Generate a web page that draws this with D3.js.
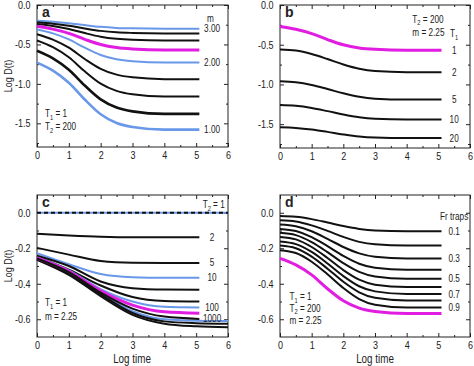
<!DOCTYPE html>
<html>
<head>
<meta charset="utf-8">
<script src="https://cdn.jsdelivr.net/npm/d3@7"></script>
<style>
body { margin: 0; background: #fff; }
svg text { font-family: "Liberation Sans", Arial, sans-serif; fill: #222; }
</style>
</head>
<body>
<svg id="chart" width="474" height="366"></svg>
<script>
// ---- data ----
var logTime = [0, 0.5, 1, 1.5, 2, 2.5, 3, 4, 5.1];

// panel a: T1 = 1, T2 = 200, varying m
var mValues = [3.00, 2.75, 2.50, 2.25, 2.00, 1.75, 1.50, 1.25, 1.00];
var logDbyM = [
	[-0.20, -0.212, -0.23, -0.255, -0.277, -0.29, -0.296, -0.30, -0.30],
	[-0.22, -0.237, -0.262, -0.297, -0.328, -0.346, -0.354, -0.36, -0.36],
	[-0.24, -0.265, -0.303, -0.356, -0.402, -0.429, -0.442, -0.45, -0.45],
	[-0.27, -0.306, -0.36, -0.435, -0.501, -0.54, -0.558, -0.57, -0.57],
	[-0.31, -0.36, -0.436, -0.541, -0.633, -0.688, -0.713, -0.73, -0.73],
	[-0.37, -0.438, -0.541, -0.684, -0.809, -0.883, -0.917, -0.94, -0.94],
	[-0.45, -0.535, -0.663, -0.841, -0.997, -1.089, -1.132, -1.16, -1.16],
	[-0.58, -0.676, -0.82, -1.02, -1.196, -1.30, -1.348, -1.38, -1.38],
	[-0.73, -0.832, -0.985, -1.198, -1.385, -1.495, -1.546, -1.58, -1.58]
];

// panel b: T2 = 200, m = 2.25, varying T1
var t1Values = [1, 2, 5, 10, 20];
var logDbyT1 = [
	[-0.27, -0.306, -0.36, -0.435, -0.501, -0.54, -0.558, -0.57, -0.57],
	[-0.56, -0.574, -0.617, -0.68, -0.748, -0.802, -0.831, -0.845, -0.845],
	[-0.96, -0.972, -1.006, -1.057, -1.112, -1.156, -1.179, -1.19, -1.19],
	[-1.26, -1.269, -1.296, -1.336, -1.379, -1.413, -1.431, -1.44, -1.44],
	[-1.54, -1.547, -1.567, -1.597, -1.629, -1.655, -1.668, -1.675, -1.675]
];

// panel c: T1 = 1, m = 2.25, varying T2
var logTimeC = [0, 1, 2, 3, 4, 5.1];
var logTimeCLong = [0, 1, 2, 3, 4, 5, 6];
var t2Values = [2, 5, 10, 20, 50, 100, 200, 1000];
var logDbyT2 = [
	[-0.119, -0.128, -0.135, -0.138, -0.138, -0.138],
	[-0.198, -0.236, -0.272, -0.282, -0.283, -0.283],
	[-0.228, -0.29, -0.345, -0.363, -0.366, -0.366],
	[-0.242, -0.30, -0.387, -0.425, -0.433, -0.434],
	[-0.25, -0.32, -0.41, -0.475, -0.497, -0.50],
	[-0.252, -0.325, -0.43, -0.50, -0.53, -0.534],
	[-0.255, -0.33, -0.44, -0.52, -0.558, -0.566],
	[-0.258, -0.335, -0.45, -0.54, -0.585, -0.598]
];
var logDT2one = [0, 0, 0, 0, 0, 0, 0];
var logDtailC = [
	[-0.26, -0.34, -0.455, -0.555, -0.60, -0.608, -0.61],
	[-0.262, -0.345, -0.46, -0.565, -0.612, -0.622, -0.625],
	[-0.265, -0.35, -0.47, -0.575, -0.625, -0.64, -0.645]
];

// panel d: T1 = 1, T2 = 200, m = 2.25, varying fraction of traps
var frTraps = [0.1, 0.2, 0.3, 0.4, 0.5, 0.6, 0.7, 0.8, 0.9, 1.0];
var logDbyFr = [
	[-0.019, -0.023, -0.036, -0.055, -0.075, -0.091, -0.10, -0.104, -0.104],
	[-0.042, -0.049, -0.071, -0.102, -0.136, -0.164, -0.178, -0.185, -0.185],
	[-0.066, -0.076, -0.104, -0.147, -0.193, -0.229, -0.248, -0.258, -0.258],
	[-0.091, -0.103, -0.137, -0.188, -0.243, -0.287, -0.31, -0.321, -0.321],
	[-0.113, -0.126, -0.165, -0.222, -0.284, -0.333, -0.359, -0.372, -0.372],
	[-0.136, -0.15, -0.193, -0.255, -0.323, -0.377, -0.405, -0.419, -0.419],
	[-0.162, -0.177, -0.221, -0.286, -0.357, -0.414, -0.443, -0.458, -0.458],
	[-0.185, -0.20, -0.247, -0.315, -0.389, -0.448, -0.479, -0.494, -0.494],
	[-0.211, -0.227, -0.276, -0.347, -0.424, -0.486, -0.518, -0.534, -0.534],
	[-0.257, -0.294, -0.35, -0.428, -0.496, -0.537, -0.556, -0.568, -0.568]
];

// ---- drawing ----
var svg = d3.select("#chart");
var BLUE = "#6a98e8", MAG = "#e21de2", BLACK = "#111";
var NARROW = 0.82; // the figure uses a narrow sans face

function fmtY(d) { return d.toFixed(1); }

function panel(box, yDomain, yMajor, yMinor) {
	var x = d3.scaleLinear().domain([0, 6]).range([box.left, box.right]);
	var y = d3.scaleLinear().domain(yDomain).range([box.bottom, box.top]);
	var g = svg.append("g");
	var xMajor = d3.range(0, 7, 1), xMinor = d3.range(0.5, 6, 1);

	function put(axis, tx, ty, labels) {
		var a = g.append("g").attr("transform", "translate(" + tx + "," + ty + ")").call(axis);
		a.select(".domain").remove();
		a.selectAll("line").attr("stroke", "#222");
		a.selectAll("text").attr("font-size", 11).attr("fill", "#222")
			.attr("transform", "scale(" + NARROW + ",1)");
		if (!labels) a.selectAll("text").remove();
	}
	// major + minor ticks on all four sides, pointing inward
	put(d3.axisBottom(x).tickValues(xMajor).tickSize(-4).tickPadding(4).tickFormat(d3.format("d")), 0, box.bottom, true);
	put(d3.axisBottom(x).tickValues(xMinor).tickSize(-2), 0, box.bottom, false);
	put(d3.axisTop(x).tickValues(xMajor).tickSize(-4), 0, box.top, false);
	put(d3.axisTop(x).tickValues(xMinor).tickSize(-2), 0, box.top, false);
	put(d3.axisLeft(y).tickValues(yMajor).tickSize(-4).tickPadding(8).tickFormat(fmtY), box.left, 0, true);
	put(d3.axisLeft(y).tickValues(yMinor).tickSize(-2), box.left, 0, false);
	put(d3.axisRight(y).tickValues(yMajor).tickSize(-4), box.right, 0, false);
	put(d3.axisRight(y).tickValues(yMinor).tickSize(-2), box.right, 0, false);

	g.append("rect")
		.attr("x", box.left).attr("y", box.top)
		.attr("width", box.right - box.left).attr("height", box.bottom - box.top)
		.attr("fill", "none").attr("stroke", "#222").attr("stroke-width", 1);

	g.append("text").attr("x", box.left + 5).attr("y", box.top + 12)
		.attr("font-size", 14).attr("font-weight", "bold")
		.text(box.letter);

	return { g: g, x: x, y: y };
}

function curve(p, xs, vals, color, width, dash) {
	var line = d3.line()
		.x(function(d) { return p.x(d[0]); })
		.y(function(d) { return p.y(d[1]); })
		.curve(d3.curveMonotoneX);
	p.g.append("path")
		.datum(d3.zip(xs, vals))
		.attr("d", line)
		.attr("fill", "none")
		.attr("stroke", color)
		.attr("stroke-width", width)
		.attr("stroke-dasharray", dash || null);
}

// narrow text at a pixel position; "_" marks a one-character subscript, e.g. "T_2 = 200"
function label(px, py, str, size, anchor, rotate) {
	var t = svg.append("text")
		.attr("transform", "translate(" + px + "," + py + ")" + (rotate ? " rotate(" + rotate + ")" : "") + " scale(" + NARROW + ",1)")
		.attr("font-size", size)
		.attr("dy", "0.35em")
		.attr("text-anchor", anchor || "start");
	var parts = str.split("_");
	t.append("tspan").text(parts[0]);
	for (var i = 1; i < parts.length; i++) {
		t.append("tspan").attr("font-size", size * 0.7).attr("dy", 2.5).text(parts[i].charAt(0));
		t.append("tspan").attr("dy", -2.5).text(parts[i].slice(1));
	}
	return t;
}

function note(p, xv, yv, str, anchor) {
	return label(p.x(xv), p.y(yv), str, 10, anchor);
}

// panel a
var pa = panel({ left: 37, right: 228, top: 5, bottom: 147, letter: "a" },
	[-1.8, 0], [0, -0.5, -1, -1.5], [-0.25, -0.75, -1.25, -1.75]);
logDbyM.forEach(function(vals, i) {
	var m = mValues[i];
	var color = m === 2.25 ? MAG : (m % 1 === 0 ? BLUE : BLACK);
	var w = m === 2.25 ? 3 : (m <= 1.25 ? 2.6 : 2);
	curve(pa, logTime, vals, color, w);
	if (m % 1 === 0) note(pa, 5.5, vals[vals.length - 1], m.toFixed(2), "middle");
});
note(pa, 5.45, -0.175, "m", "middle");
note(pa, 0.25, -1.38, "T_1 = 1");
note(pa, 0.25, -1.545, "T_2 = 200");

// panel b
var pb = panel({ left: 280, right: 470, top: 5, bottom: 148, letter: "b" },
	[-1.8, 0], [0, -0.5, -1, -1.5], [-0.25, -0.75, -1.25, -1.75]);
logDbyT1.forEach(function(vals, i) {
	var first = t1Values[i] === 1;
	curve(pb, logTime, vals, first ? MAG : BLACK, first ? 3 : 2);
	note(pb, 5.5, vals[vals.length - 1], String(t1Values[i]), "middle");
});
note(pb, 4.18, -0.18, "T_2 = 200");
note(pb, 4.18, -0.34, "m = 2.25");
note(pb, 5.5, -0.36, "T_1", "middle");

// panel c
var pc = panel({ left: 37, right: 228, top: 195, bottom: 337, letter: "c" },
	[-0.7, 0.1], [0, -0.2, -0.4, -0.6], [-0.1, -0.3, -0.5]);
curve(pc, logTimeCLong, logDT2one, BLUE, 2);
curve(pc, logTimeCLong, logDT2one, BLACK, 2, "4,3");
logDtailC.forEach(function(vals, i) {
	curve(pc, logTimeCLong, vals, i === 0 ? BLUE : BLACK, 2);
});
logDbyT2.forEach(function(vals, i) {
	var t2 = t2Values[i];
	var color = t2 === 200 ? MAG : (t2 === 10 || t2 === 100 ? BLUE : BLACK);
	curve(pc, logTimeC, vals, color, t2 === 200 ? 3 : 2);
	if ([2, 5, 10, 100, 1000].indexOf(t2) >= 0) note(pc, 5.5, vals[vals.length - 1], String(t2), "middle");
});
note(pc, 5.55, 0.045, "T_2 = 1", "middle");
note(pc, 0.25, -0.508, "T_1 = 1");
note(pc, 0.25, -0.586, "m = 2.25");

// panel d
var pd = panel({ left: 280, right: 470, top: 195, bottom: 337, letter: "d" },
	[-0.7, 0.1], [0, -0.2, -0.4, -0.6], [-0.1, -0.3, -0.5]);
logDbyFr.forEach(function(vals, i) {
	var fr = frTraps[i];
	var last = fr === 1.0;
	curve(pd, logTime, vals, last ? MAG : BLACK, last ? 3 : 2);
	if ([0.1, 0.3, 0.5, 0.7, 0.9].indexOf(fr) >= 0) note(pd, 5.5, vals[vals.length - 1], fr.toFixed(1), "middle");
});
note(pd, 5.5, -0.021, "Fr traps", "middle");
note(pd, 0.3, -0.472, "T_1 = 1");
note(pd, 0.3, -0.537, "T_2 = 200");
note(pd, 0.3, -0.605, "m = 2.25");

// axis titles
label(132, 359, "Log time", 12, "middle");
label(375, 359, "Log time", 12, "middle");
label(8, 76, "Log D(t)", 11, "middle", -90);
label(8, 266, "Log D(t)", 11, "middle", -90);
</script>
</body>
</html>
